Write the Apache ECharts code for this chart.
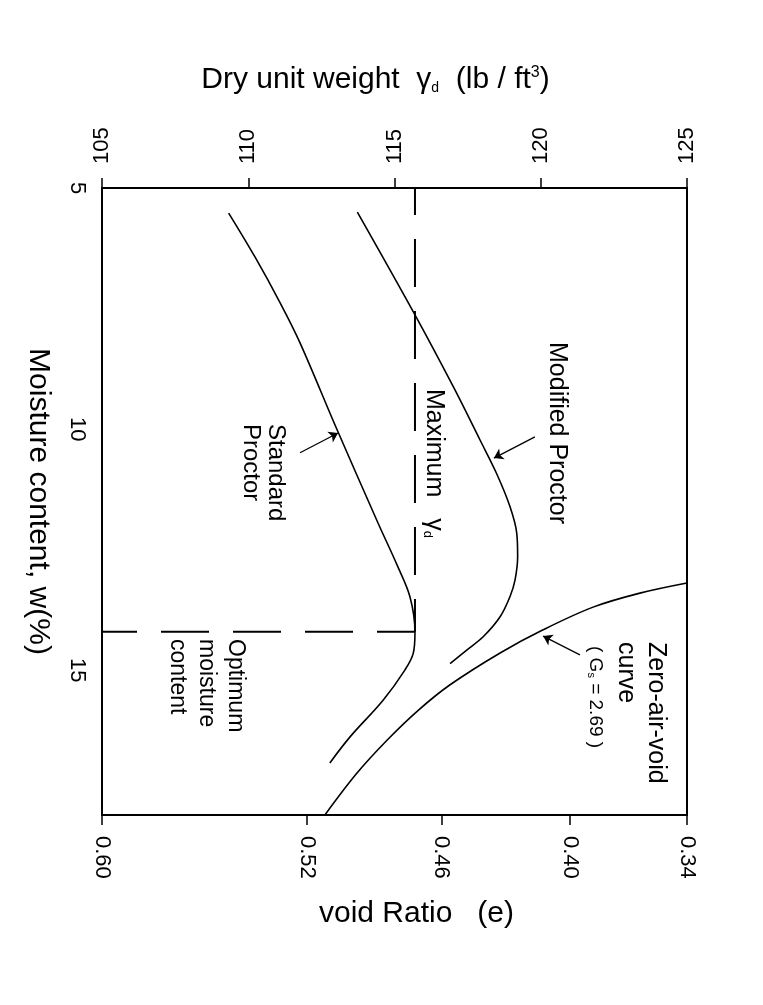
<!DOCTYPE html>
<html><head><meta charset="utf-8">
<script src="https://cdn.jsdelivr.net/npm/echarts@6/dist/echarts.min.js"></script>
<style>html,body{margin:0;padding:0;background:#fff}#c{width:763px;height:1005px}</style>
</head><body><div id="c"></div>
<script>
const FONT = "'Liberation Sans', Arial, Helvetica, sans-serif";

// Axis ticks
const unitWeightRange = [105, 125];          // dry unit weight, lb/ft3
const moistureRange = [5, 18];               // moisture content, %
const moistureTicks = [5, 10, 15];
const voidRatioLabels = ['0.60', '0.52', '0.46', '0.40', '0.34'];
const voidRatioAt = [105, 112.0, 116.6, 121.0, 125]; // where each void-ratio tick sits on the unit-weight scale

// Curves: [dry unit weight, moisture content]
const modifiedProctor = [
  [113.73, 5.50], [115.70, 7.63], [117.01, 9.12], [117.92, 10.22], [118.49, 10.92],
  [118.95, 11.61], [119.18, 12.16], [119.21, 12.64], [119.12, 13.13], [118.95, 13.47],
  [118.61, 13.89], [118.04, 14.30], [117.47, 14.58], [116.90, 14.86]
];
const standardProctor = [
  [109.33, 5.52], [110.23, 6.43], [111.09, 7.38], [111.77, 8.21], [113.00, 9.96],
  [114.44, 11.95], [115.09, 12.82], [115.53, 13.48], [115.70, 14.21], [115.64, 14.65],
  [115.36, 14.99], [114.61, 15.62], [113.48, 16.38], [112.79, 16.92]
];
const zeroAirVoid = [
  [125.0, 13.19], [123.39, 13.40], [121.79, 13.69], [120.08, 14.16], [118.61, 14.64],
  [116.90, 15.30], [115.83, 15.82], [114.76, 16.44], [113.69, 17.15], [112.62, 18.0]
];
const maxDryUnitWeight = 115.7;
const optimumMoisture = 14.2;

// Annotation arrows: [from, to] in [dry unit weight, moisture]
const arrowModified = [[119.80, 10.16], [118.40, 10.60]];
const arrowStandard = [[111.77, 10.49], [113.07, 10.08]];
const arrowZeroAir = [[121.34, 14.68], [120.08, 14.29]];

const chart = echarts.init(document.getElementById('c'));
const black = '#000';
const lineStyle = {color: black, width: 1.6};
const dashStyle = {color: black, width: 2, type: [48, 24]};

chart.setOption({
  backgroundColor: '#fff',
  animation: false,
  textStyle: {fontFamily: FONT, color: black},
  grid: {left: 102, right: 76, top: 188, bottom: 190, show: true, borderColor: black, borderWidth: 2, backgroundColor: 'transparent'},
  xAxis: [{
    type: 'value', position: 'top', min: unitWeightRange[0], max: unitWeightRange[1], interval: 5,
    splitLine: {show: false},
    axisLine: {lineStyle: {color: black, width: 2}},
    axisTick: {show: true, inside: false, length: 10, lineStyle: {color: black, width: 1.5}},
    axisLabel: {rotate: -90, margin: 24, fontSize: 22, color: black, fontFamily: FONT},
    name: 'Dry unit weight  {g|γ}{s|d}  (lb / ft{u|3})',
    nameLocation: 'middle', nameGap: 93,
    nameTextStyle: {fontSize: 30, color: black, fontFamily: FONT, padding: [0, 38, 0, 0],
      rich: {g: {fontSize: 30, fontFamily: FONT}, s: {fontSize: 14, verticalAlign: 'bottom', padding: [11, 0, 0, 0]},
             u: {fontSize: 16, verticalAlign: 'top', padding: [0, 0, 13, 0]}}}
  }, {
    type: 'value', position: 'bottom', min: unitWeightRange[0], max: unitWeightRange[1],
    splitLine: {show: false},
    axisLine: {lineStyle: {color: black, width: 2}},
    axisTick: {show: true, length: 10, customValues: voidRatioAt, lineStyle: {color: black, width: 1.5}},
    axisLabel: {rotate: -90, margin: 21, fontSize: 22, color: black, fontFamily: FONT,
      customValues: voidRatioAt,
      formatter: v => { const i = voidRatioAt.findIndex(p => Math.abs(p - v) < 1e-6); return i >= 0 ? voidRatioLabels[i] : ''; }},
    name: 'void Ratio   (e)', nameLocation: 'middle', nameGap: 84,
    nameTextStyle: {fontSize: 30, color: black, fontFamily: FONT, padding: [0, 0, 0, 44]}
  }],
  yAxis: [{
    type: 'value', inverse: true, min: moistureRange[0], max: moistureRange[1], interval: 5,
    splitLine: {show: false},
    axisLine: {lineStyle: {color: black, width: 2}},
    axisTick: {show: false, customValues: moistureTicks},
    axisLabel: {rotate: -90, margin: 14, fontSize: 22, color: black, fontFamily: FONT, customValues: moistureTicks},
    name: 'Moisture content, w(%)', nameLocation: 'middle', nameRotate: -90, nameGap: 49,
    nameTextStyle: {fontSize: 30, color: black, fontFamily: FONT}
  }],
  graphic: [
    {type: 'text', x: 557, y: 342, rotation: -Math.PI / 2,
      style: {text: 'Modified Proctor', fontSize: 25, fontFamily: FONT, fill: black, align: 'left', verticalAlign: 'middle'}},
    {type: 'text', x: 263, y: 424, rotation: -Math.PI / 2,
      style: {text: 'Standard\nProctor', fontSize: 24, lineHeight: 25, fontFamily: FONT, fill: black, align: 'left', verticalAlign: 'middle'}},
    {type: 'text', x: 434, y: 389, rotation: -Math.PI / 2,
      style: {text: 'Maximum   {g|γ}{s|d}', fontSize: 25, fontFamily: FONT, fill: black, align: 'left', verticalAlign: 'middle',
        rich: {g: {fontSize: 25, fontFamily: FONT}, s: {fontSize: 13, verticalAlign: 'bottom', padding: [10, 0, 0, 0]}}}},
    {type: 'text', x: 206, y: 639, rotation: -Math.PI / 2,
      style: {text: 'Optimum\nmoisture\ncontent', fontSize: 23, lineHeight: 29, fontFamily: FONT, fill: black, align: 'left', verticalAlign: 'middle'}},
    {type: 'text', x: 641, y: 642, rotation: -Math.PI / 2,
      style: {text: 'Zero-air-void\ncurve', fontSize: 25, lineHeight: 30, fontFamily: FONT, fill: black, align: 'left', verticalAlign: 'middle'}},
    {type: 'text', x: 595, y: 646, rotation: -Math.PI / 2,
      style: {text: '( G{s|s} = 2.69 )', fontSize: 19, fontFamily: FONT, fill: black, align: 'left', verticalAlign: 'middle',
        rich: {s: {fontSize: 11, verticalAlign: 'bottom', padding: [6, 0, 0, 0]}}}}
  ],
  series: [
    {name: 'Modified Proctor', type: 'line', data: modifiedProctor, smooth: 0.35, showSymbol: false, lineStyle: lineStyle, silent: true},
    {name: 'Standard Proctor', type: 'line', data: standardProctor, smooth: 0.35, showSymbol: false, lineStyle: lineStyle, silent: true},
    {name: 'Zero-air-void', type: 'line', data: zeroAirVoid, smooth: 0.35, showSymbol: false, lineStyle: lineStyle, silent: true},
    {name: 'Maximum dry unit weight', type: 'line', data: [[maxDryUnitWeight, moistureRange[0]], [maxDryUnitWeight, optimumMoisture]],
      showSymbol: false, lineStyle: Object.assign({}, dashStyle, {dashOffset: 21}), silent: true},
    {name: 'Optimum moisture', type: 'line', data: [[unitWeightRange[0], optimumMoisture], [maxDryUnitWeight, optimumMoisture]],
      showSymbol: false, lineStyle: Object.assign({}, dashStyle, {dashOffset: 13}), silent: true},
    {name: 'Arrows', type: 'lines', coordinateSystem: 'cartesian2d', symbol: ['none', 'arrow'], symbolSize: 9,
      lineStyle: {color: black, width: 1.3, opacity: 1, curveness: 0}, silent: true,
      data: [{coords: arrowModified}, {coords: arrowStandard}, {coords: arrowZeroAir}]}
  ]
});
</script></body></html>
